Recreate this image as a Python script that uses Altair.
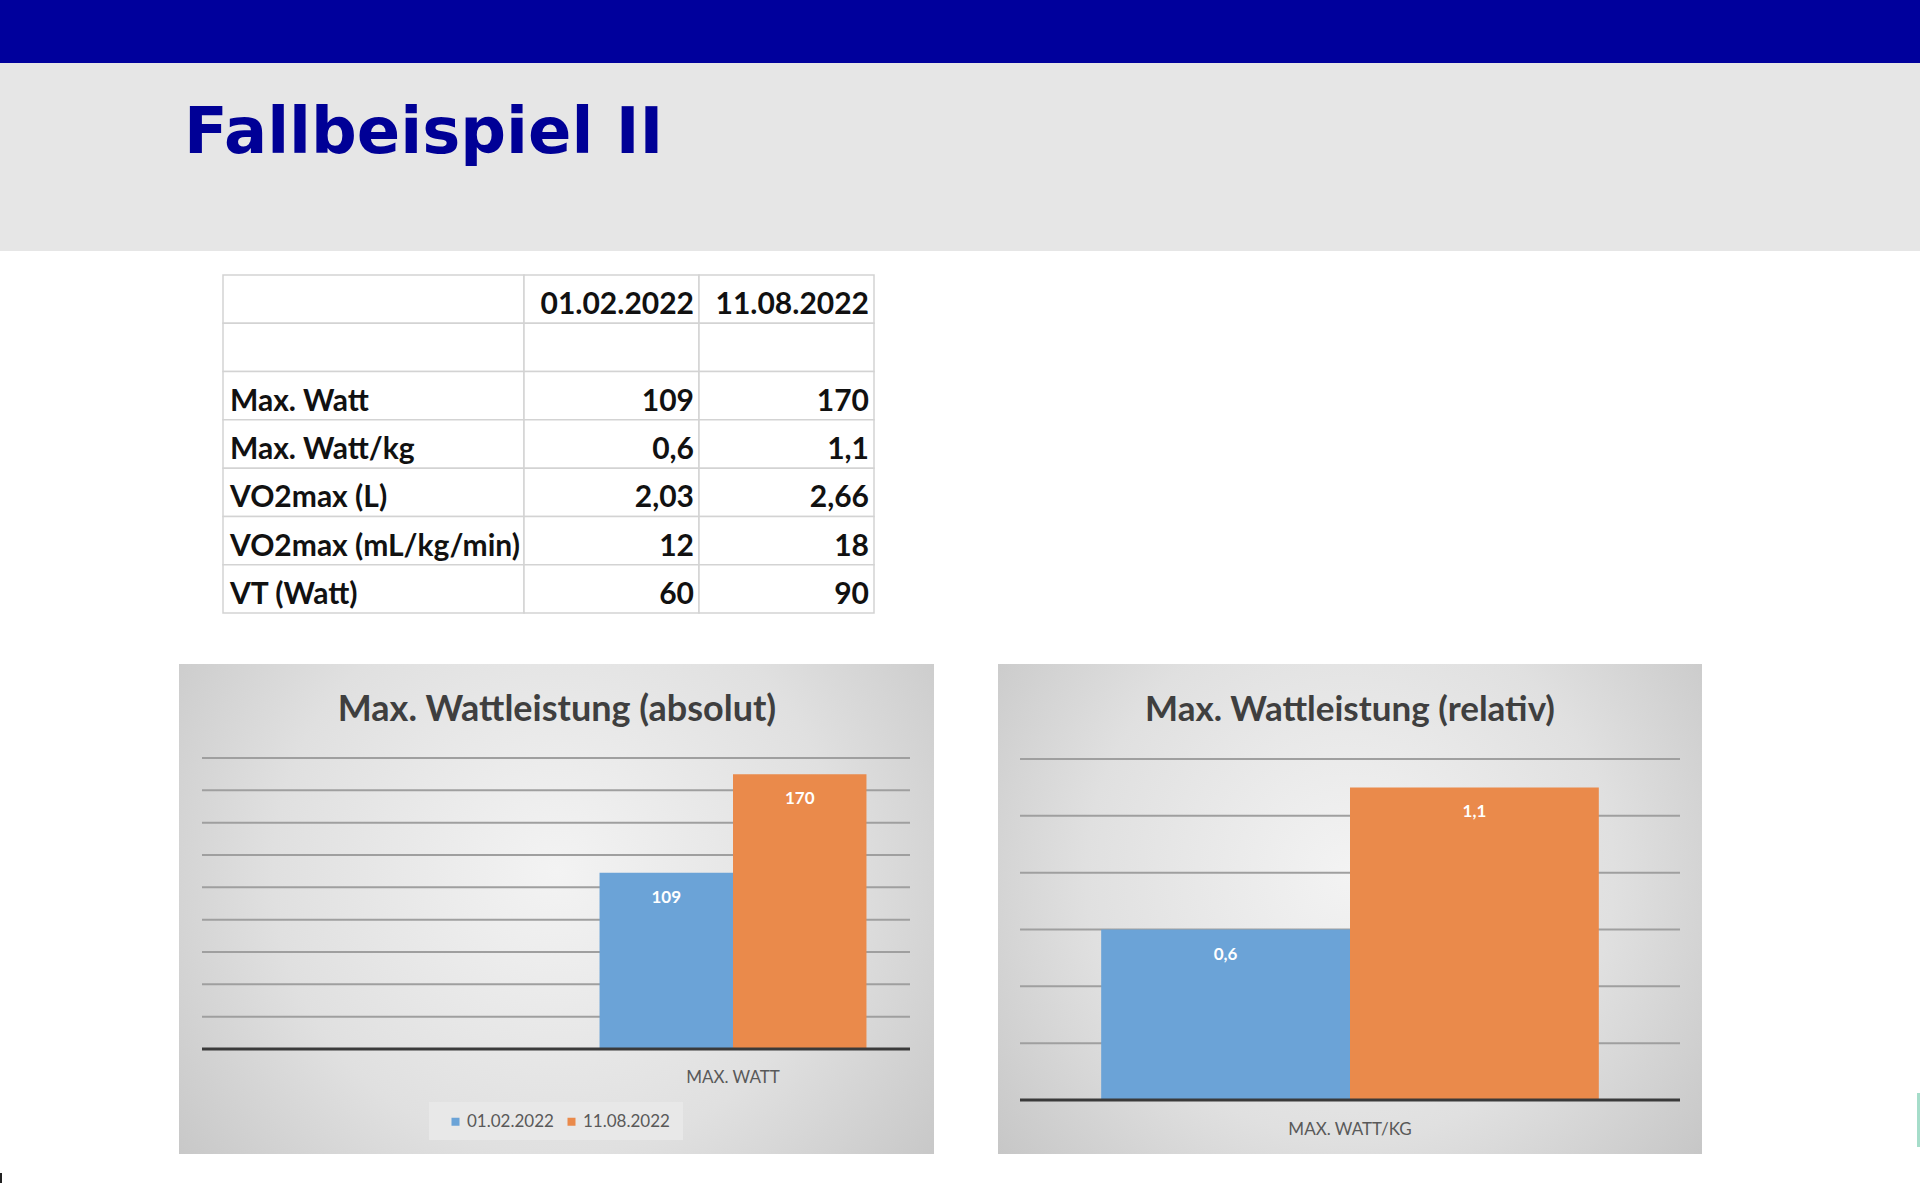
import altair as alt
import pandas as pd

# ---- data -------------------------------------------------------------
DATES = ["01.02.2022", "11.08.2022"]

MAX_WATT = [109, 170]
WATT_PER_KG = [0.6, 1.1]
VO2MAX_L = [2.03, 2.66]
VO2MAX_REL = [12, 18]
VT_WATT = [60, 90]

TABLE_LABELS = ["Max. Watt", "Max. Watt/kg", "VO2max (L)", "VO2max (mL/kg/min)", "VT (Watt)"]
TABLE_VALUES = [MAX_WATT, WATT_PER_KG, VO2MAX_L, VO2MAX_REL, VT_WATT]

ABS_TICKS = [0, 20, 40, 60, 80, 100, 120, 140, 160, 180]
REL_TICKS = [0, 0.2, 0.4, 0.6, 0.8, 1.0, 1.2]

ABS_CATEGORIES = ["", "MAX. WATT"]
REL_CATEGORIES = ["MAX. WATT/KG"]

SERIES_COLORS = ["#6ba3d7", "#ea8a4b"]

# ---- layout / style ---------------------------------------------------
W, H = 1920, 1200
ONE = pd.DataFrame({"d": [0]})
TEXT_FONT = "Lato"


def de(v):
    """German decimal notation (comma)."""
    return str(v).replace(".", ",")


def box(x0, x1, y0, y1, **mark):
    return alt.Chart(ONE).mark_rect(**mark).encode(
        x=alt.value(x0), x2=alt.value(x1), y=alt.value(y0), y2=alt.value(y1)
    )


def panel_fill():
    return alt.RadialGradient(
        gradient="radial",
        x1=0.5, y1=0.45, r1=0.0,
        x2=0.5, y2=0.45, r2=0.75,
        stops=[
            alt.GradientStop(offset=0.0, color="#f3f3f3"),
            alt.GradientStop(offset=0.5, color="#e0e0e0"),
            alt.GradientStop(offset=1.0, color="#bcbcbc"),
        ],
    )


# ---- slide background ---------------------------------------------------
slide = alt.layer(
    box(0, W, 0, H, fill="white"),
    box(0, W, 62, 251, fill="#e6e6e6"),
    box(0, W, 0, 63, fill="#00009c"),
    alt.Chart(ONE).mark_text(
        text="Fallbeispiel II", font="DejaVu Sans", fontWeight="bold",
        fontSize=64, color="#000096", align="left", baseline="alphabetic",
    ).encode(x=alt.value(184), y=alt.value(153)),
    box(1917, W, 1093, 1147, fill="#a6ddca"),
    box(0, 2, 1173, 1183, fill="#222222"),
    # chart panels
    box(179, 934, 664, 1154, fill=panel_fill()),
    box(998, 1702, 664, 1154, fill=panel_fill()),
    # legend box
    box(429, 683, 1102, 1140, fill="#e8e8e8"),
    # chart titles
    alt.Chart(ONE).mark_text(
        text="Max. Wattleistung (absolut)", font=TEXT_FONT, fontWeight="bold",
        fontSize=36, color="#3f3f3f", align="center", baseline="alphabetic",
    ).encode(x=alt.value(557), y=alt.value(721)),
    alt.Chart(ONE).mark_text(
        text="Max. Wattleistung (relativ)", font=TEXT_FONT, fontWeight="bold",
        fontSize=35, color="#3f3f3f", align="center", baseline="alphabetic",
    ).encode(x=alt.value(1350), y=alt.value(721)),
)

# ---- table ----------------------------------------------------------------
ROW_KEYS = ["head", "blank"] + TABLE_LABELS
rows_df = pd.DataFrame({"key": ROW_KEYS, "label": ["", ""] + TABLE_LABELS})

cell_rows = []
for d, date in enumerate(DATES):
    cell_rows.append({"key": "head", "col": date, "text": date})
    for lab, arr in zip(TABLE_LABELS, TABLE_VALUES):
        cell_rows.append({"key": lab, "col": date, "text": de(arr[d])})
cells_df = pd.DataFrame(cell_rows)

row_y = alt.Y("key:N", axis=None,
              scale=alt.Scale(domain=ROW_KEYS, range=[275, 613], paddingInner=0, paddingOuter=0))
COLUMN_EDGES = [(223, 524), (524, 699), (699, 874)]

table_cells = [
    alt.Chart(rows_df).mark_rect(fill="white", stroke="#d3d3d3", strokeWidth=1.5).encode(
        y=row_y, x=alt.value(a), x2=alt.value(b)
    )
    for a, b in COLUMN_EDGES
]
table_labels = alt.Chart(rows_df).mark_text(
    font=TEXT_FONT, fontWeight="bold", fontSize=30, color="#111111",
    align="left", baseline="alphabetic", dy=15,
).encode(y=row_y, x=alt.value(230), text="label:N")
table_values = alt.Chart(cells_df).mark_text(
    font=TEXT_FONT, fontWeight="bold", fontSize=30, color="#111111",
    align="right", baseline="alphabetic", dy=15,
).encode(
    y=row_y,
    x=alt.X("col:N", axis=None,
            scale=alt.Scale(type="point", domain=DATES, range=[694, 869], padding=0)),
    text="text:N",
)
table = alt.layer(*table_cells, table_labels, table_values)


# ---- bar charts -------------------------------------------------------------
def bar_panel(categories, values, ticks, x_range, y_range, cat_y, legend):
    cat = categories[-1]
    bars_df = pd.DataFrame({
        "cat": [cat] * len(DATES),
        "series": DATES,
        "value": values,
        "label": [de(v) for v in values],
    })
    xs = alt.Scale(domain=categories, range=x_range, paddingInner=0.246, paddingOuter=0.123)
    ys = alt.Scale(domain=[ticks[0], ticks[-1]], range=y_range, nice=False)
    x = alt.X("cat:N", scale=xs, axis=None)
    xo = alt.XOffset("series:N", scale=alt.Scale(domain=DATES, paddingInner=0, paddingOuter=0))

    grid = alt.Chart(pd.DataFrame({"tick": ticks[1:]})).mark_rule(
        color="#9f9f9f", strokeWidth=2
    ).encode(y=alt.Y("tick:Q", scale=ys, axis=None),
             x=alt.value(x_range[0]), x2=alt.value(x_range[1]))
    bars = alt.Chart(bars_df).mark_bar().encode(
        x=x, xOffset=xo,
        y=alt.Y("value:Q", scale=ys, axis=None),
        color=alt.Color("series:N", scale=alt.Scale(domain=DATES, range=SERIES_COLORS),
                        legend=legend),
    )
    baseline = alt.Chart(pd.DataFrame({"tick": ticks[:1]})).mark_rule(
        color="#3a3a3a", strokeWidth=3
    ).encode(y=alt.Y("tick:Q", scale=ys, axis=None),
             x=alt.value(x_range[0]), x2=alt.value(x_range[1]))
    labels = alt.Chart(bars_df).mark_text(
        font=TEXT_FONT, fontWeight="bold", fontSize=17, color="white",
        baseline="middle", dy=25,
    ).encode(x=x, xOffset=xo, y=alt.Y("value:Q", scale=ys, axis=None), text="label:N")
    cat_label = alt.Chart(pd.DataFrame({"cat": [cat]})).mark_text(
        font=TEXT_FONT, fontSize=17, color="#595959", baseline="middle",
    ).encode(x=x, y=alt.value(cat_y), text="cat:N")
    return alt.layer(grid, bars, baseline, labels, cat_label)


abs_legend = alt.Legend(
    orient="none", legendX=447, legendY=1113, direction="horizontal", title=None,
    symbolType="square", symbolSize=64, symbolStrokeWidth=0,
    labelFont=TEXT_FONT, labelFontSize=17, labelColor="#595959",
    labelOffset=3, columnPadding=9, padding=0,
)

left = bar_panel(ABS_CATEGORIES, MAX_WATT, ABS_TICKS, [202, 910], [1049, 758], 1078, abs_legend)
right = bar_panel(REL_CATEGORIES, WATT_PER_KG, REL_TICKS, [1020, 1680], [1100, 759], 1130, None)

chart = alt.layer(slide, table, left, right).resolve_scale(
    x="independent", y="independent", color="independent", xOffset="independent"
).properties(
    width=W, height=H, autosize=alt.AutoSizeParams(type="none"), padding=0,
    background="white",
).configure_view(stroke=None)

chart.save("out.html", embed_options={"renderer": "svg", "actions": False})
